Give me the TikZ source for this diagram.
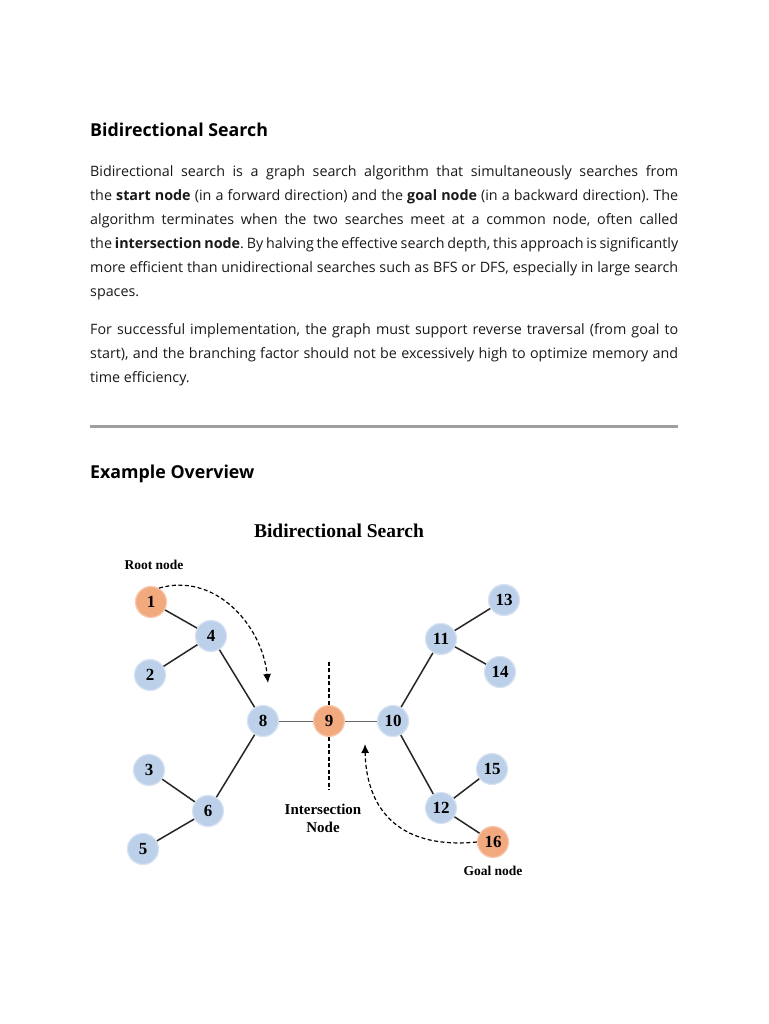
\documentclass[tikz,border=0pt]{standalone}
\usepackage{fontspec}
\setmainfont{Open Sans}
\newfontfamily\diagfont{Liberation Serif}
\usepackage{xcolor}
\usetikzlibrary{arrows.meta,positioning}
\definecolor{nodeblue}{HTML}{BDD0E9}
\definecolor{nodeorange}{HTML}{F2A97E}
\definecolor{bodytext}{HTML}{1A1A1A}
\frenchspacing

\begin{document}
\begin{tikzpicture}[
    x=1pt, y=-1pt,
    heading/.style={anchor=base west, inner sep=0pt, text=black,
                font=\fontsize{17.8}{20}\selectfont\bfseries},
    para/.style={anchor=base west, inner sep=0pt, text width=588pt,
                align=justify, text=bodytext,
                font=\fontsize{14.3}{24}\selectfont},
    vtx/.style={circle, minimum size=31pt, inner sep=0pt,
                fill=nodeblue, draw=nodeblue!60!white, line width=1.2pt,
                font=\diagfont\bfseries\fontsize{17}{17}\selectfont},
    goalvtx/.style={vtx, fill=nodeorange, draw=nodeorange!60!white},
    lbl/.style={align=center, inner sep=0pt,
                font=\diagfont\bfseries\fontsize{13.5}{17}\selectfont},
    edge/.style={line width=1.5pt, draw=black!85},
    link/.style={line width=0.8pt, draw=black!60},
    sweep/.style={dashed, line width=1.2pt, dash pattern=on 4pt off 2.5pt,
                -{Latex[length=9pt, width=8pt]}},
    cut/.style={dashed, line width=1.2pt, dash pattern=on 4pt off 2.5pt}
]
\useasboundingbox[fill=white] (0,0) rectangle (768,1024);

% text part
\node[heading] (head1) at (90,137) {Bidirectional Search};
\node[para] (par1) at (90,177) {Bidirectional search is a graph search algorithm that simultaneously searches from\linebreak
the \textbf{start node} (in a forward direction) and the \textbf{goal node} (in a backward direction). The\linebreak
algorithm terminates when the two searches meet at a common node, often called\linebreak
the \textbf{intersection node}. By halving the effective search depth, this approach is significantly\linebreak
more efficient than unidirectional searches such as BFS or DFS, especially in large search\linebreak
spaces.};
\node[para] (par2) at (90,334) {For successful implementation, the graph must support reverse traversal (from goal to\linebreak
start), and the branching factor should not be excessively high to optimize memory and\linebreak
time efficiency.};
\draw[line width=3pt, color=black!38] (90,426) -- (678,426);
\node[heading] (head2) at (90,478) {Example Overview};

% diagram
\node[lbl, font=\diagfont\bfseries\fontsize{19.5}{20}\selectfont] (title) at (339,531) {Bidirectional Search};
\node[lbl] (rootlbl) at (154,565) {Root node};
\node[lbl] (goallbl) at (493,871) {Goal node};
\node[lbl, font=\diagfont\bfseries\fontsize{15}{18}\selectfont] (interlbl) at (323,818) {Intersection\\Node};

\node[goalvtx] (n1) at (151,602) {1};
\node[vtx] (n4) at (211,636) {4};
\node[vtx] (n2) at (150,675) {2};
\node[vtx] (n8) at (263,721) {8};
\node[goalvtx] (n9) at (329,721) {9};
\node[vtx] (n10) at (393,721) {10};
\node[vtx] (n3) at (149,770) {3};
\node[vtx] (n6) at (208,811) {6};
\node[vtx] (n5) at (143,849) {5};
\node[vtx] (n11) at (441,639) {11};
\node[vtx] (n13) at (504,600) {13};
\node[vtx] (n14) at (500,672) {14};
\node[vtx] (n12) at (441,808) {12};
\node[vtx] (n15) at (492,769) {15};
\node[goalvtx] (n16) at (493,842) {16};

\draw[edge] (n1) -- (n4);
\draw[edge] (n4) -- (n2);
\draw[edge] (n4) -- (n8);
\draw[edge] (n8) -- (n6);
\draw[edge] (n6) -- (n3);
\draw[edge] (n6) -- (n5);
\draw[link] (n8) -- (n9);
\draw[link] (n9) -- (n10);
\draw[edge] (n10) -- (n11);
\draw[edge] (n11) -- (n13);
\draw[edge] (n11) -- (n14);
\draw[edge] (n10) -- (n12);
\draw[edge] (n12) -- (n15);
\draw[edge] (n12) -- (n16);

% meeting line through 9
\coordinate (cuttop) at (329,660);
\coordinate (cutbot) at (329,790);
\draw[cut] (n9.north) -- (cuttop);
\draw[cut] (n9.south) -- (cutbot);

% forward and backward sweeps
\coordinate (fwdend) at (268,683);
\coordinate (bwdend) at (365,744);
\draw[sweep] (n1.60) .. controls (215,572) and (262,625) .. (fwdend);
\draw[sweep] (n16.west) .. controls (395,850) and (366,805) .. (bwdend);
\end{tikzpicture}
\end{document}
